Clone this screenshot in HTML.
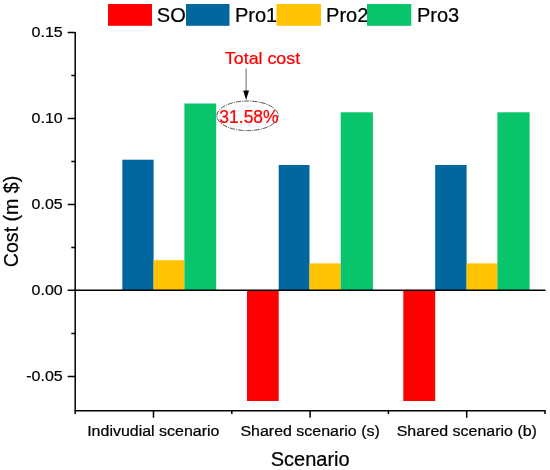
<!DOCTYPE html>
<html><head><meta charset="utf-8">
<style>
html,body{margin:0;padding:0;background:#fff;}
svg{display:block;}
text{font-family:"Liberation Sans",Arial,sans-serif;fill:#000;stroke:#000;stroke-width:0.22px;}
</style></head><body>
<svg width="550" height="470" viewBox="0 0 550 470">
<rect width="550" height="470" fill="#fff"/>
<!-- legend -->
<rect x="108" y="4" width="44" height="21.8" fill="#fe0000"/>
<text id="l1" x="156.8" y="21.5" font-size="20">SO</text>
<rect x="186" y="4" width="43.5" height="21.8" fill="#02669f"/>
<text id="l2" x="235" y="21.5" font-size="20">Pro1</text>
<rect x="276.5" y="4" width="44.5" height="21.8" fill="#ffc303"/>
<text id="l3" x="326.1" y="21.5" font-size="20">Pro2</text>
<rect x="367" y="4" width="44.3" height="21.8" fill="#08c56c"/>
<text id="l4" x="416.9" y="21.5" font-size="20">Pro3</text>
<!-- bars -->
<g>
<rect x="122.3" y="159.7" width="31.3" height="130.6" fill="#02669f"/>
<rect x="153.6" y="260.2" width="30.8" height="30.1" fill="#ffc303"/>
<rect x="184.4" y="103.5" width="31.8" height="186.8" fill="#08c56c"/>

<rect x="247" y="290.3" width="31.7" height="110.7" fill="#fe0000"/>
<rect x="278.7" y="165" width="30.8" height="125.3" fill="#02669f"/>
<rect x="309.5" y="263.4" width="31.2" height="26.9" fill="#ffc303"/>
<rect x="340.7" y="112.3" width="32.2" height="178" fill="#08c56c"/>

<rect x="403.3" y="290.3" width="31.9" height="110.7" fill="#fe0000"/>
<rect x="435.2" y="165" width="31.4" height="125.3" fill="#02669f"/>
<rect x="466.6" y="263.4" width="30.8" height="26.9" fill="#ffc303"/>
<rect x="497.4" y="112.3" width="32.2" height="178" fill="#08c56c"/>
</g>
<!-- axes -->
<g stroke="#000" stroke-width="1.5" fill="none">
<path d="M75.2 31.9V413.9"/>
<path d="M74.5 410.8H545"/>
<path d="M75.2 290.3H545.5" stroke-width="1.4"/>
<path d="M67.7 32.6H75.2M67.7 118.6H75.2M67.7 204.5H75.2M67.7 290.3H75.2M67.7 376.4H75.2"/>
<path d="M71.3 75.5H75.2M71.3 161.5H75.2M71.3 247.4H75.2M71.3 333.4H75.2"/>
<path d="M153.5 410.8V417.7M310.1 410.8V417.7M466.7 410.8V417.7"/>
<path d="M231.8 410.8V413.9M388.4 410.8V413.9M545 410.1V413.9"/>
</g>
<!-- tick labels -->
<g font-size="15.3" text-anchor="end">
<text id="y1" transform="translate(62.7,37.1) scale(1.045,1)">0.15</text>
<text id="y2" transform="translate(62.7,123.1) scale(1.045,1)">0.10</text>
<text id="y3" transform="translate(62.7,209.0) scale(1.045,1)">0.05</text>
<text id="y4" transform="translate(62.7,294.9) scale(1.045,1)">0.00</text>
<text id="y5" transform="translate(62.7,380.9) scale(1.045,1)">-0.05</text>
</g>
<g font-size="15.3" text-anchor="middle">
<text id="x1" transform="translate(153.3,436.2) scale(1.045,1)">Indivudial scenario</text>
<text id="x2" transform="translate(310.1,436.2) scale(1.045,1)">Shared scenario (s)</text>
<text id="x3" transform="translate(466.8,436.2) scale(1.045,1)">Shared scenario (b)</text>
</g>
<text id="xl" x="310.2" y="465.7" font-size="20" text-anchor="middle">Scenario</text>
<text id="yl" transform="translate(18.3,221.5) rotate(-90)" font-size="19.6" text-anchor="middle">Cost (m $)</text>
<!-- annotation -->
<text id="a1" transform="translate(262.5,64.1) scale(1.062,1)" font-size="16.8" text-anchor="middle" style="fill:#fe0000;stroke:#fe0000">Total cost</text>
<path d="M246.1 68.5V91" stroke="#444" stroke-width="0.8" fill="none"/>
<path d="M246.1 100L243.2 90.4H249Z" fill="#000"/>
<ellipse cx="247.5" cy="115.8" rx="30.6" ry="14.8" fill="none" stroke="#333" stroke-width="0.85" stroke-dasharray="5 1 1.2 1"/>
<text id="a2" x="249" y="123.1" font-size="17.5" text-anchor="middle" style="fill:#fe0000;stroke:#fe0000">31.58%</text>
</svg>
</body></html>
